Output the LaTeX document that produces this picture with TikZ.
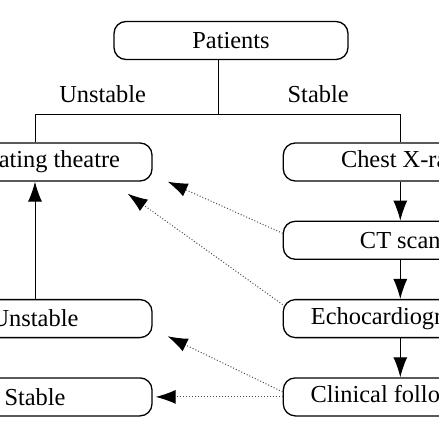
\documentclass[tikz,border=0pt]{standalone}
\usepackage{fontspec}
\setmainfont{Liberation Serif}
\usetikzlibrary{arrows.meta,positioning,calc}

\begin{document}
\begin{tikzpicture}[
    stage/.style={rectangle, draw, rounded corners=6pt, minimum width=117pt, minimum height=19pt, line width=0.65pt, inner sep=0pt, font=\fontsize{12.2}{15}\selectfont},
    branch/.style={font=\fontsize{12.2}{15}\selectfont},
    flow/.style={-{Latex[length=10pt,width=7pt]}, line width=0.5pt},
    back/.style={-{Latex[length=10pt,width=7pt,color=black]}, densely dotted, line width=0.5pt, draw=black!70},
    node distance=19.5pt and 65pt
]
    \clip (-17.5pt,81pt) rectangle (202pt,-138.5pt);

    \node[stage] (theatre) at (0,0) {Operating theatre};
    \node[stage, right=of theatre] (chest) {Chest X-ray};
    \node[stage, below=of chest] (ct) {CT scan};
    \node[stage, below=of ct] (echo) {Echocardiography};
    \node[stage, below=of echo] (follow) {Clinical follow-up};
    \node[stage] (unst) at (theatre |- echo) {Unstable};
    \node[stage] (stab) at (theatre |- follow) {Stable};
    \node[stage] (patients) at (98pt,60.75pt) {Patients};

    % split of the patients
    \coordinate (split) at ($(theatre.north)!0.5!(chest.north)+(0.5pt,14pt)$);
    \draw[line width=0.5pt] (patients.south -| split) -- (split);
    \draw[line width=0.5pt] (theatre.north) |- (split) -| (chest.north);
    \node[branch] (unstlbl) at ([shift={(-58pt,10pt)}]split) {Unstable};
    \node[branch] (stablbl) at ([shift={(49.75pt,10pt)}]split) {Stable};

    \draw[flow] (chest) -- (ct);
    \draw[flow] (ct) -- (echo);
    \draw[flow] (echo) -- (follow);
    \draw[flow] (unst) -- (theatre);

    % back to the left column
    \coordinate (tip1) at ([xshift=7.5pt]theatre.south east);
    \coordinate (tip2) at ([shift={(-12.5pt,-6pt)}]theatre.south east);
    \coordinate (tip3) at ([shift={(7.5pt,1pt)}]unst.south east);
    \coordinate (tip4) at ([xshift=1.5pt]stab.east);
    \draw[back] ([yshift=3.5pt]ct.west) -- (tip1);
    \draw[back] ([yshift=7pt]echo.west) -- (tip2);
    \draw[back] ([yshift=2.5pt]follow.west) -- (tip3);
    \draw[back] (follow.west) -- (tip4);
\end{tikzpicture}
\end{document}
